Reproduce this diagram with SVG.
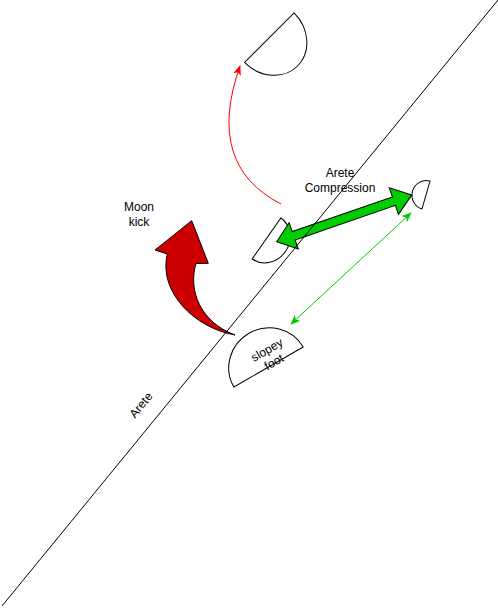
<svg xmlns="http://www.w3.org/2000/svg" width="498" height="609" viewBox="0 0 498 609">
<style>
.shape{fill:#ffffff;stroke:#000000;stroke-width:1}
.lbl{font-family:"Liberation Sans",Arial,Helvetica,sans-serif;font-size:12px;fill:#000000;text-anchor:middle}
.thinR{fill:none;stroke:#FF0000;stroke-width:1}
.thinG{fill:none;stroke:#00CC00;stroke-width:1}
</style>
<defs>
<marker id="arrR" viewBox="0 0 10 8" refX="9" refY="4" markerWidth="10" markerHeight="8" markerUnits="userSpaceOnUse" orient="auto-start-reverse"><path d="M0,0 L10,4 L0,8 L2.5,4 Z" fill="#FF0000"/></marker>
<marker id="arrG" viewBox="0 0 10 8" refX="9" refY="4" markerWidth="10" markerHeight="8" markerUnits="userSpaceOnUse" orient="auto-start-reverse"><path d="M0,0 L10,4 L0,8 L2.5,4 Z" fill="#00CC00"/></marker>
</defs>
<rect width="498" height="609" fill="#ffffff"/>
<g id="hold-top">
<path class="shape" transform="translate(269.3,37.7) rotate(45)" d="M0,-35 A40,35 0 0 1 0,35 Z"/>
</g>
<g id="hold-middle">
<path class="shape" transform="translate(266.5,238.5) rotate(35)" d="M0,-25 A23,25 0 0 1 0,25 Z"/>
</g>
<g id="hold-right">
<path class="shape" transform="translate(426,195) rotate(-164)" d="M0,-14.5 A14,14.5 0 0 1 0,14.5 Z"/>
</g>
<g id="slopey-foot">
<path class="shape" transform="translate(268.5,367) rotate(-120)" d="M0,-40 A39,40 0 0 1 0,40 Z"/>
<text class="lbl" transform="translate(270.5,356) rotate(-30)"><tspan x="0" y="-3">slopey</tspan><tspan x="0" y="11">foot</tspan></text>
</g>
<g id="moon-kick">
<path fill="#CC0000" stroke="#000000" stroke-width="1" d="M191.7,220.7 L208.3,263.3 L196,263.5 C188,290 200,322 235,335 C195,328 158,292 167.3,254 L155,250 Z"/>
<text class="lbl"><tspan x="139" y="211">Moon</tspan><tspan x="139" y="226">kick</tspan></text>
</g>
<g id="connectors">
<path class="thinR" d="M281,204 Q205,165 240,66" marker-end="url(#arrR)"/>
<path class="thinG" d="M291,324 L411,213" marker-start="url(#arrG)" marker-end="url(#arrG)"/>
<path fill="#00CC00" stroke="#000000" stroke-width="1" transform="translate(276.7,241.7) rotate(-19.1)" d="M0,0 L18,-14 L18,-4.5 L124,-4.5 L124,-14 L143,0 L124,14 L124,4.5 L18,4.5 L18,14 Z"/>
</g>
<g id="arete">
<line x1="498" y1="0" x2="2" y2="606" stroke="#000000" stroke-width="1"/>
<text class="lbl" transform="translate(141,405) rotate(-50.7)" y="4">Arete</text>
</g>
<g id="compression-label">
<text class="lbl"><tspan x="340" y="177">Arete</tspan><tspan x="340" y="192">Compression</tspan></text>
</g>
</svg>
